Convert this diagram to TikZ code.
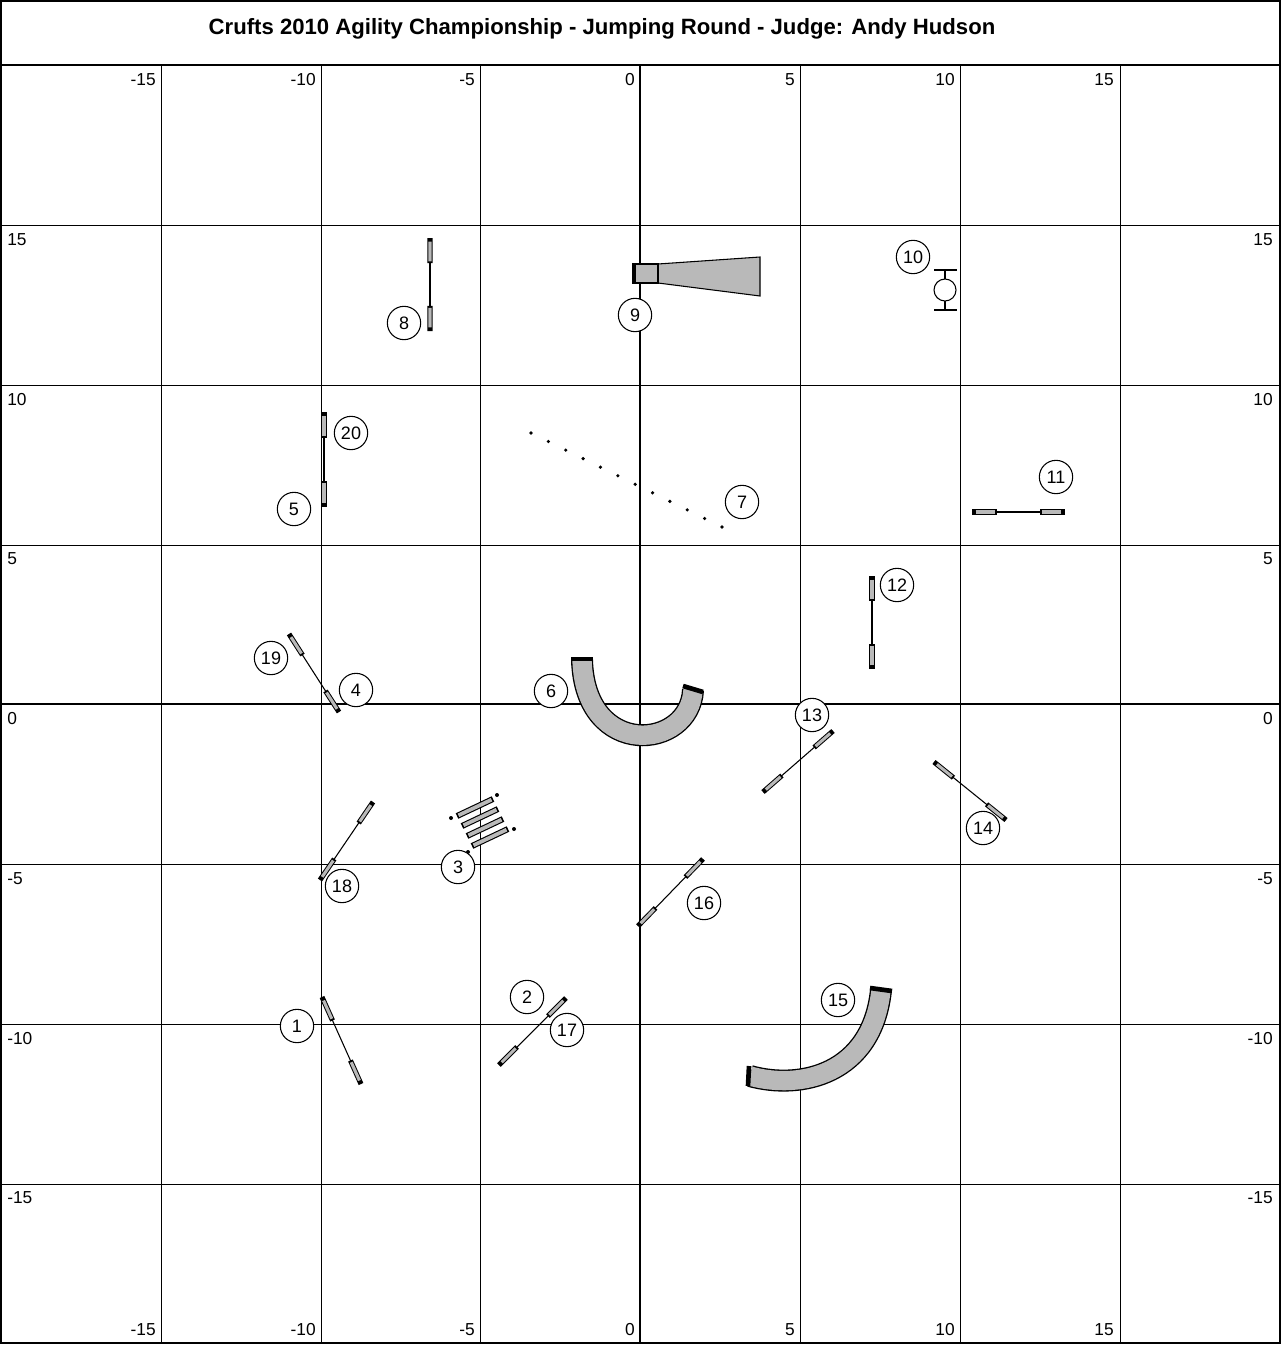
\documentclass[tikz,border=0pt]{standalone}
\usepackage{fontspec}
\setmainfont{Liberation Sans}
\usetikzlibrary{calc}
\begin{document}
\begin{tikzpicture}[x=0.75pt,y=-0.75pt,
  grid/.style={line width=0.75pt},
  axis/.style={line width=1.5pt},
  lab/.style={font=\fontsize{13}{15}\selectfont,inner sep=0pt},
  num/.style={circle,draw,line width=0.8pt,minimum size=25pt,inner sep=0pt,font=\fontsize{13.5}{15}\selectfont},
  bar/.style={draw=black,line width=3.8pt},
  barin/.style={draw=gray!55,line width=2.3pt},
  pole/.style={line width=0.8pt}]
\useasboundingbox (0,0) rectangle (1281,1345);
\fill[white] (0,0) rectangle (1281,1345);
% grid
\foreach \x in {161,321,480,800,960,1120} \draw[grid] (\x,65) -- (\x,1343);
\foreach \y in {225,385,545,864,1024,1184} \draw[grid] (1,\y) -- (1280,\y);
\draw[axis] (640,65) -- (640,1343);
\draw[axis] (1,704) -- (1280,704);
\draw[line width=1.2pt] (1,1) rectangle (1280,1343);
\draw[line width=1.2pt] (1,65) -- (1280,65);
\node[font=\bfseries\fontsize{16.6}{19}\selectfont] (title) at (602,29) {Crufts 2010 Agility Championship - Jumping Round - Judge: Andy Hudson};
% axis labels
\foreach \x/\t in {156/-15,316/-10,475/-5,635/0,795/5,955/10,1114/15} {
  \node[lab,anchor=east] (t\x) at (\x,80) {\t};
  \node[lab,anchor=east] (b\x) at (\x,1330) {\t};}
\foreach \y/\t in {240/15,400/10,559/5,719/0,879/-5,1039/-10,1198/-15} {
  \node[lab,anchor=west] (l\y) at (7,\y) {\t};
  \node[lab,anchor=east] (r\y) at (1273,\y) {\t};}
% jumps
\newcommand{\jmp}[2]{%
  \coordinate (ja) at (#1); \coordinate (jb) at (#2);
  \draw[pole] (ja) -- (jb);
  \coordinate (ja2) at ($(ja)!0.27!(jb)$); \coordinate (jb2) at ($(jb)!0.27!(ja)$);
  \draw[bar] (ja) -- (ja2); \draw[barin] ($(ja)!0.04!(jb)$) -- ($(ja)!0.25!(jb)$);
  \draw[bar] (jb) -- (jb2); \draw[barin] ($(jb)!0.04!(ja)$) -- ($(jb)!0.25!(ja)$);}
\jmp{430,238}{430,331}
\jmp{324,412}{324,507}
\jmp{972,512}{1065,512}
\jmp{872,576}{872,669}
\jmp{289,634}{339,712}
\jmp{763,792}{833,731}
\jmp{934,762}{1006,820}
\jmp{373,802}{320,880}
\jmp{638,926}{703,859}
\jmp{322,997}{361,1084}
\jmp{499,1065}{566,998}
% tire 10
\draw[pole] (945,270) -- (945,310);
\draw[pole] (934,270) -- (957,270);
\draw[pole] (934,310) -- (957,310);
\draw[pole,fill=white] (945,290) circle[radius=11];
% chute 9
\draw[pole,fill=gray!55] (658,264) -- (760,257) -- (760,296) -- (658,283) -- cycle;
\draw[pole,fill=gray!55] (633,264) rectangle (658,283);
\draw[line width=3pt] (634,265) -- (634,282);
% weave 3
\foreach \i in {0,1,2,3} {
  \draw[bar,line width=4.5pt] ($(457,816)+(\i*5,\i*10)$) -- ($(493,799)+(\i*5,\i*10)$);
  \draw[barin,line width=2.8pt] ($(458.5,815.3)+(\i*5,\i*10)$) -- ($(491.5,799.7)+(\i*5,\i*10)$);}
\foreach \p in {(451,818),(497,795),(514,829),(468,852)} \fill \p circle[radius=2];
% tunnels
\draw[line width=16.5pt,line cap=butt] (582,660) .. controls (585,760) and (690,750) .. (693,690);
\draw[gray!55,line width=14.5pt,line cap=butt] (582,660) .. controls (585,760) and (690,750) .. (693,690);
\draw[line width=3.5pt] (571,659) -- (593,659);
\draw[line width=3.5pt] (683,686) -- (703,692);
\draw[line width=16.5pt,line cap=butt] (881,990) .. controls (872,1075) and (800,1090) .. (750,1076);
\draw[gray!55,line width=14.5pt,line cap=butt] (881,990) .. controls (872,1075) and (800,1090) .. (750,1076);
\draw[line width=3.5pt] (870,988) -- (892,991);
\draw[line width=3.5pt] (749,1066) -- (748,1086);
% dots 7
\foreach \i in {0,...,11} \fill ($(531,433)!\i/11!(722,527)$) circle[radius=1.8];
% numbers
\foreach \n/\p in {1/{297,1026},2/{527,997},3/{458,867},4/{356,690},5/{294,509},6/{551,691},7/{742,502},8/{404,323},9/{635,315},10/{913,257},11/{1056,477},12/{897,585},13/{812,715},14/{983,828},15/{838,1000},16/{704,903},17/{567,1030},18/{342,886},19/{271,658},20/{351,433}}
  \node[num,fill=white] (n\n) at (\p) {\n};
\end{tikzpicture}
\end{document}
